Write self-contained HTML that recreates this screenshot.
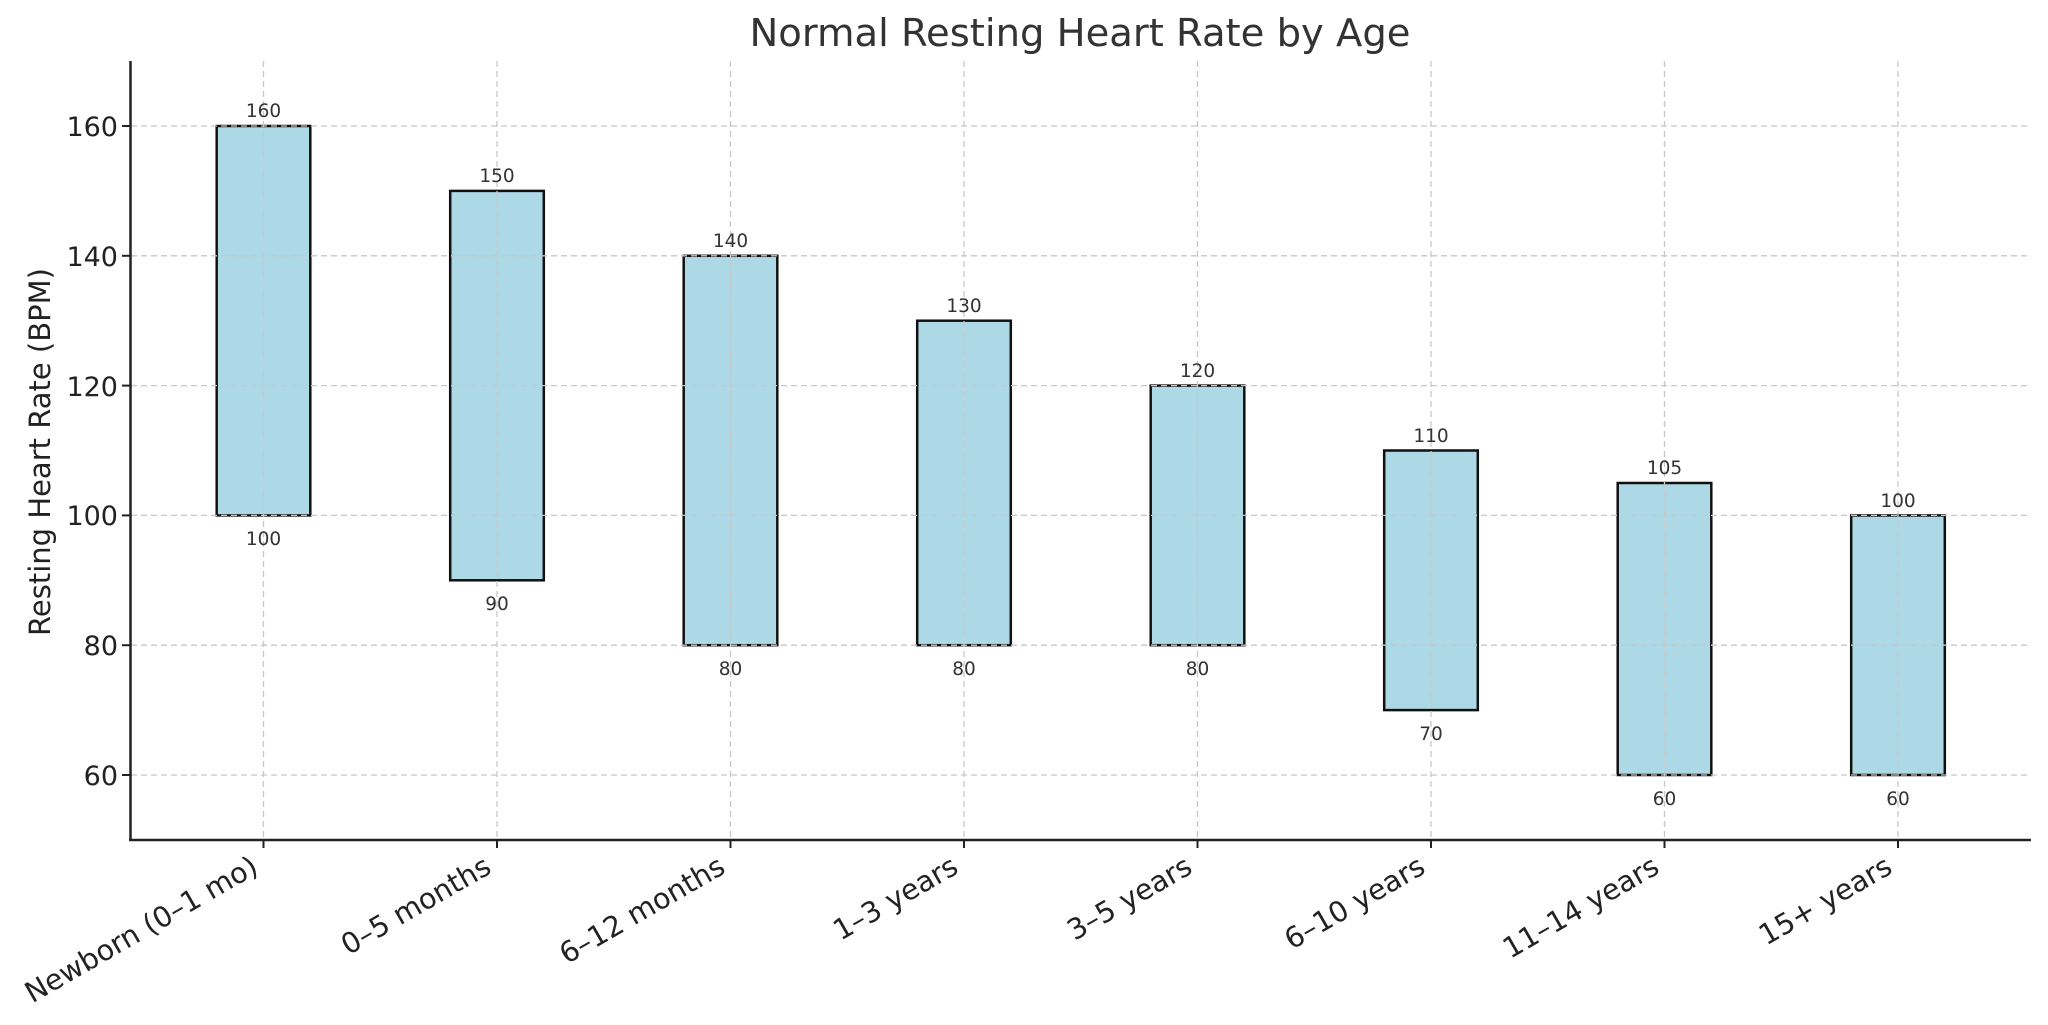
<!DOCTYPE html>
<html><head><meta charset="utf-8"><style>html,body{margin:0;padding:0;background:#fff}svg{display:block}</style></head>
<body>
<svg width="2048" height="1025" xmlns="http://www.w3.org/2000/svg" font-family="DejaVu Sans, Liberation Sans, sans-serif">
<rect width="2048" height="1025" fill="#fff"/>
<text x="1080" y="46" font-size="38.5" text-anchor="middle" fill="#333">Normal Resting Heart Rate by Age</text>
<g id="bars" fill="#add8e6" stroke="#111" stroke-width="2.5">
<rect x="216.7" y="126" width="93.6" height="389.4"/>
<rect x="450.2" y="190.9" width="93.6" height="389.4"/>
<rect x="683.7" y="255.8" width="93.6" height="389.4"/>
<rect x="917.2" y="320.7" width="93.6" height="324.5"/>
<rect x="1150.7" y="385.6" width="93.6" height="259.6"/>
<rect x="1384.2" y="450.5" width="93.6" height="259.6"/>
<rect x="1617.7" y="483" width="93.6" height="292"/>
<rect x="1851.2" y="515.4" width="93.6" height="259.6"/>
</g>
<g stroke="#c8c8c8" stroke-width="1.3" stroke-dasharray="6,4">
<line x1="131" x2="2031" y1="126" y2="126"/><line x1="131" x2="2031" y1="255.8" y2="255.8"/>
<line x1="131" x2="2031" y1="385.6" y2="385.6"/><line x1="131" x2="2031" y1="515.4" y2="515.4"/>
<line x1="131" x2="2031" y1="645.2" y2="645.2"/><line x1="131" x2="2031" y1="775" y2="775"/>
<line y1="61" y2="840" x1="263.5" x2="263.5"/><line y1="61" y2="840" x1="497" x2="497"/>
<line y1="61" y2="840" x1="730.5" x2="730.5"/><line y1="61" y2="840" x1="964" x2="964"/>
<line y1="61" y2="840" x1="1197.5" x2="1197.5"/><line y1="61" y2="840" x1="1431" x2="1431"/>
<line y1="61" y2="840" x1="1664.5" x2="1664.5"/><line y1="61" y2="840" x1="1898" x2="1898"/>
</g>
<g stroke="#222" stroke-width="2.5">
<line x1="130.5" y1="61" x2="130.5" y2="841"/><line x1="129" y1="840" x2="2031" y2="840"/>
<g stroke-width="2">
<line x1="122" x2="130" y1="126" y2="126"/><line x1="122" x2="130" y1="255.8" y2="255.8"/>
<line x1="122" x2="130" y1="385.6" y2="385.6"/><line x1="122" x2="130" y1="515.4" y2="515.4"/>
<line x1="122" x2="130" y1="645.2" y2="645.2"/><line x1="122" x2="130" y1="775" y2="775"/>
<line y1="840" y2="848" x1="263.5" x2="263.5"/><line y1="840" y2="848" x1="497" x2="497"/>
<line y1="840" y2="848" x1="730.5" x2="730.5"/><line y1="840" y2="848" x1="964" x2="964"/>
<line y1="840" y2="848" x1="1197.5" x2="1197.5"/><line y1="840" y2="848" x1="1431" x2="1431"/>
<line y1="840" y2="848" x1="1664.5" x2="1664.5"/><line y1="840" y2="848" x1="1898" x2="1898"/>
</g></g>
<g font-size="27" fill="#222" text-anchor="end">
<text x="118" y="136">160</text><text x="118" y="266">140</text><text x="118" y="396">120</text>
<text x="118" y="525">100</text><text x="118" y="655">80</text><text x="118" y="785">60</text>
</g>
<text transform="translate(50,452) rotate(-90)" font-size="29" fill="#222" text-anchor="middle">Resting Heart Rate (BPM)</text>
<g font-size="28.5" fill="#222" text-anchor="end">
<text transform="translate(260,872) rotate(-30)">Newborn (0–1 mo)</text>
<text transform="translate(493,872) rotate(-30)">0–5 months</text>
<text transform="translate(727,872) rotate(-30)">6–12 months</text>
<text transform="translate(960,872) rotate(-30)">1–3 years</text>
<text transform="translate(1194,872) rotate(-30)">3–5 years</text>
<text transform="translate(1427,872) rotate(-30)">6–10 years</text>
<text transform="translate(1661,872) rotate(-30)">11–14 years</text>
<text transform="translate(1894,872) rotate(-30)">15+ years</text>
</g>
<g font-size="18.5" fill="#333" text-anchor="middle">
<text x="263.5" y="117">160</text><text x="263.5" y="545">100</text>
<text x="497" y="182">150</text><text x="497" y="610">90</text>
<text x="730.5" y="247">140</text><text x="730.5" y="675">80</text>
<text x="964" y="312">130</text><text x="964" y="675">80</text>
<text x="1197.5" y="377">120</text><text x="1197.5" y="675">80</text>
<text x="1431" y="442">110</text><text x="1431" y="740">70</text>
<text x="1664.5" y="474">105</text><text x="1664.5" y="805">60</text>
<text x="1898" y="507">100</text><text x="1898" y="805">60</text>
</g>
</svg>
</body></html>
